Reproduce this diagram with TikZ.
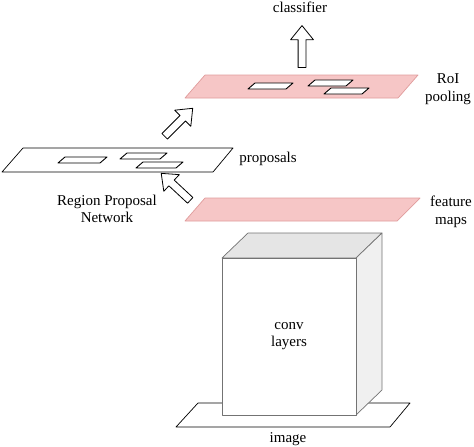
\documentclass[tikz,border=0pt]{standalone}
\usepackage{fontspec}
\setmainfont{Liberation Serif}
\usetikzlibrary{shapes.arrows,calc}
\definecolor{roipink}{HTML}{F6C6C6}
\definecolor{roiedge}{HTML}{E09C9C}
\tikzset{
	plane/.style={draw=black,line width=0.7pt,fill=white},
	pinkplane/.style={draw=roiedge,line width=0.7pt,fill=roipink},
	roibox/.style={draw=black,line width=0.9pt,fill=white},
	label/.style={align=center,inner sep=0pt,font=\fontsize{15}{17.5}\selectfont},
	blockarrow/.style={single arrow,draw=black,fill=white,line width=0.8pt,inner xsep=0pt,inner ysep=3.5pt,
		minimum width=0pt,single arrow head extend=7.5pt,single arrow tip angle=78},
}
\newcommand{\smallbox}[3]{\draw[roibox](#1,#2)--++(#3,0)--++(-7,6)--++(-#3,0)--cycle;}
\newcommand{\hollowarrow}[2]{\path let \p1=($(#2)-(#1)$),\n1={atan2(\y1,\x1)},\n2={veclen(\x1,\y1)} in
	node[blockarrow,rotate=\n1,minimum height=\n2] at ($(#1)!.5!(#2)$) {};}
\begin{document}
\begin{tikzpicture}[x=1pt,y=-1pt, line join=round]
	\useasboundingbox (0,0) rectangle (474,447);
	% image and conv layers
	\draw[plane](198,403)--(410,403)--(390,427)--(176,427)--cycle;
	\draw[draw=black!55,line width=0.7pt,fill=black!10](222,258)--(248,233)--(382,233)--(356,258)--cycle;
	\draw[draw=black!55,line width=0.7pt,fill=black!6](356,258)--(382,233)--(382,390)--(356,415)--cycle;
	\draw[draw=black!55,line width=0.7pt,fill=white](222,258)rectangle(356,415);
	\node[label] (conv) at (289,336) {conv\\layers};
	\node[label] (image) at (288,439) {image};
	% feature maps
	\draw[pinkplane](205,198)--(420,198)--(397,221)--(185,221)--cycle;
	\node[label] (feat) at (451,212) {feature\\maps};
	% proposals
	\draw[plane](23,148)--(233,148)--(213,172)--(2,172)--cycle;
	\smallbox{65}{157}{42}
	\smallbox{127}{153}{40}
	\smallbox{143}{162}{40}
	\node[label] (prop) at (268,159) {proposals};
	\node[label] (rpn) at (107,209) {Region Proposal\\Network};
	% RoI pooling
	\draw[pinkplane](205,75)--(418,75)--(398,98)--(185,98)--cycle;
	\smallbox{255}{83}{38}
	\smallbox{315}{80}{38}
	\smallbox{331}{88}{38}
	\node[label] (roi) at (448,89) {RoI\\pooling};
	\node[label] (cls) at (300,7) {classifier};
	% arrows
	\coordinate (featOut) at (192,202);
	\coordinate (propIn) at (163,175);
	\coordinate (propOut) at (163,138);
	\coordinate (roiIn) at (191,110);
	\coordinate (roiOut) at (302,70);
	\coordinate (clsIn) at (302,28);
	\hollowarrow{featOut}{propIn}
	\hollowarrow{propOut}{roiIn}
	\hollowarrow{roiOut}{clsIn}
\end{tikzpicture}
\end{document}
